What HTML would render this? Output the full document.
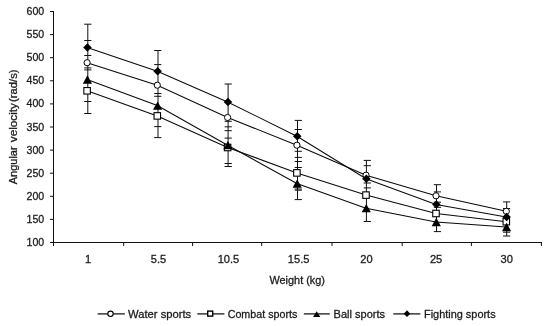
<!DOCTYPE html>
<html><head><meta charset="utf-8"><title>Angular velocity vs weight</title>
<style>html,body{margin:0;padding:0;background:#fff}svg{display:block}text{font-family:"Liberation Sans",Arial,sans-serif;font-size:11.1px;fill:#1c1c1c;stroke:#1c1c1c;stroke-width:0.3px}</style></head><body>
<svg width="550" height="326" viewBox="0 0 550 326">
<rect width="550" height="326" fill="#fff"/>
<g stroke="#111" stroke-width="1" fill="none">
<path d="M53.5 11.0V246.0"/>
<path d="M50.0 242.5H541.9"/>
<path d="M50.0 11.50H53.5"/>
<path d="M50.0 34.60H53.5"/>
<path d="M50.0 57.70H53.5"/>
<path d="M50.0 80.80H53.5"/>
<path d="M50.0 103.90H53.5"/>
<path d="M50.0 127.00H53.5"/>
<path d="M50.0 150.10H53.5"/>
<path d="M50.0 173.20H53.5"/>
<path d="M50.0 196.30H53.5"/>
<path d="M50.0 219.40H53.5"/>
<path d="M50.0 242.50H53.5"/>
<path d="M123.70 242.5V246.0"/>
<path d="M192.60 242.5V246.0"/>
<path d="M261.70 242.5V246.0"/>
<path d="M332.00 242.5V246.0"/>
<path d="M402.20 242.5V246.0"/>
<path d="M471.40 242.5V246.0"/>
<path d="M541.40 242.5V246.0"/>
</g>
<text x="44.2" y="15.00" text-anchor="end" textLength="17.7" lengthAdjust="spacingAndGlyphs">600</text>
<text x="44.2" y="38.10" text-anchor="end" textLength="17.7" lengthAdjust="spacingAndGlyphs">550</text>
<text x="44.2" y="61.20" text-anchor="end" textLength="17.7" lengthAdjust="spacingAndGlyphs">500</text>
<text x="44.2" y="84.30" text-anchor="end" textLength="17.7" lengthAdjust="spacingAndGlyphs">450</text>
<text x="44.2" y="107.40" text-anchor="end" textLength="17.7" lengthAdjust="spacingAndGlyphs">400</text>
<text x="44.2" y="130.50" text-anchor="end" textLength="17.7" lengthAdjust="spacingAndGlyphs">350</text>
<text x="44.2" y="153.60" text-anchor="end" textLength="17.7" lengthAdjust="spacingAndGlyphs">300</text>
<text x="44.2" y="176.70" text-anchor="end" textLength="17.7" lengthAdjust="spacingAndGlyphs">250</text>
<text x="44.2" y="199.80" text-anchor="end" textLength="17.7" lengthAdjust="spacingAndGlyphs">200</text>
<text x="44.2" y="222.90" text-anchor="end" textLength="17.7" lengthAdjust="spacingAndGlyphs">150</text>
<text x="44.2" y="246.00" text-anchor="end" textLength="17.7" lengthAdjust="spacingAndGlyphs">100</text>
<text x="88.10" y="263" text-anchor="middle">1</text>
<text x="158.50" y="263" text-anchor="middle">5.5</text>
<text x="228.50" y="263" text-anchor="middle">10.5</text>
<text x="298.60" y="263" text-anchor="middle">15.5</text>
<text x="366.40" y="263" text-anchor="middle">20</text>
<text x="436.10" y="263" text-anchor="middle">25</text>
<text x="506.70" y="263" text-anchor="middle">30</text>
<text x="297.2" y="283.8" text-anchor="middle" textLength="55.6" lengthAdjust="spacingAndGlyphs">Weight (kg)</text>
<text transform="translate(17.3 184.2) rotate(-90)" textLength="37.8" lengthAdjust="spacingAndGlyphs">Angular</text>
<text transform="translate(17.3 142.2) rotate(-90)" textLength="39.1" lengthAdjust="spacingAndGlyphs">velocity</text>
<text transform="translate(17.3 101.9) rotate(-90)" textLength="32.4" lengthAdjust="spacingAndGlyphs">(rad/s)</text>
<g stroke="#111" stroke-width="1" fill="none">
<path d="M87.80 24.2V113.5"/>
<path d="M84.20 24.2H91.40"/>
<path d="M84.20 40.5H91.40"/>
<path d="M84.20 55.5H91.40"/>
<path d="M84.20 67.9H91.40"/>
<path d="M84.20 69.9H91.40"/>
<path d="M84.20 101.5H91.40"/>
<path d="M84.20 113.5H91.40"/>
<path d="M158.00 50.5V137.6"/>
<path d="M154.20 50.5H161.40"/>
<path d="M154.20 64.6H161.40"/>
<path d="M154.20 93.5H161.40"/>
<path d="M154.20 96.3H161.40"/>
<path d="M154.20 126.6H161.40"/>
<path d="M154.20 137.6H161.40"/>
<path d="M228.10 84.0V166.5"/>
<path d="M224.60 84.0H231.80"/>
<path d="M224.60 121.3H231.80"/>
<path d="M224.60 126.8H231.80"/>
<path d="M224.60 130.7H231.80"/>
<path d="M224.60 138.1H231.80"/>
<path d="M224.60 163.5H231.80"/>
<path d="M224.60 166.5H231.80"/>
<path d="M297.50 120.4V199.6"/>
<path d="M294.70 120.4H301.90"/>
<path d="M294.70 129.5H301.90"/>
<path d="M294.70 151.3H301.90"/>
<path d="M294.70 157.4H301.90"/>
<path d="M294.70 161.5H301.90"/>
<path d="M294.70 167.5H301.90"/>
<path d="M294.70 189.0H301.90"/>
<path d="M294.70 190.2H301.90"/>
<path d="M294.70 199.6H301.90"/>
<path d="M366.40 160.4V221.5"/>
<path d="M363.70 160.4H370.90"/>
<path d="M363.70 165.7H370.90"/>
<path d="M363.70 183.0H370.90"/>
<path d="M363.70 187.9H370.90"/>
<path d="M363.70 221.5H370.90"/>
<path d="M436.50 184.7V231.6"/>
<path d="M433.80 184.7H441.00"/>
<path d="M433.80 191.9H441.00"/>
<path d="M433.80 202.2H441.00"/>
<path d="M433.80 207.3H441.00"/>
<path d="M433.80 231.6H441.00"/>
<path d="M506.70 201.9V236.0"/>
<path d="M503.00 201.9H510.20"/>
<path d="M503.00 208.5H510.20"/>
<path d="M503.00 232.2H510.20"/>
<path d="M503.00 236.0H510.20"/>
</g>
<g stroke="#0a0a0a" stroke-width="1.05" fill="none">
<polyline points="87.10,62.7 157.30,85.2 227.60,117.5 296.90,145.2 366.00,175.2 436.00,195.8 506.30,211.3"/>
<polyline points="87.10,90.8 157.30,115.9 227.60,147.5 296.90,172.9 366.00,195.1 436.00,213.5 506.30,221.7"/>
<polyline points="87.10,79.5 157.30,105.6 227.60,145.2 296.90,183.5 366.00,208.2 436.00,222.0 506.30,227.0"/>
<polyline points="87.10,47.5 157.30,71.3 227.60,102.0 296.90,136.2 366.00,178.7 436.00,204.4 506.30,217.0"/>
</g>
<circle cx="87.10" cy="62.70" r="3.1" fill="#fff" stroke="#000" stroke-width="1"/>
<circle cx="157.30" cy="85.20" r="3.1" fill="#fff" stroke="#000" stroke-width="1"/>
<circle cx="227.60" cy="117.50" r="3.1" fill="#fff" stroke="#000" stroke-width="1"/>
<circle cx="296.90" cy="145.20" r="3.1" fill="#fff" stroke="#000" stroke-width="1"/>
<circle cx="366.00" cy="175.20" r="3.1" fill="#fff" stroke="#000" stroke-width="1"/>
<circle cx="436.00" cy="195.80" r="3.1" fill="#fff" stroke="#000" stroke-width="1"/>
<circle cx="506.30" cy="211.30" r="3.1" fill="#fff" stroke="#000" stroke-width="1"/>
<rect x="83.85" y="87.55" width="6.5" height="6.5" fill="#fff" stroke="#000" stroke-width="1.1"/>
<rect x="154.05" y="112.65" width="6.5" height="6.5" fill="#fff" stroke="#000" stroke-width="1.1"/>
<rect x="224.35" y="144.25" width="6.5" height="6.5" fill="#fff" stroke="#000" stroke-width="1.1"/>
<rect x="293.65" y="169.65" width="6.5" height="6.5" fill="#fff" stroke="#000" stroke-width="1.1"/>
<rect x="362.75" y="191.85" width="6.5" height="6.5" fill="#fff" stroke="#000" stroke-width="1.1"/>
<rect x="432.75" y="210.25" width="6.5" height="6.5" fill="#fff" stroke="#000" stroke-width="1.1"/>
<rect x="503.05" y="218.45" width="6.5" height="6.5" fill="#fff" stroke="#000" stroke-width="1.1"/>
<path d="M87.40 75.35L92.00 83.65H82.80Z" fill="#000"/>
<path d="M157.60 101.45L162.20 109.75H153.00Z" fill="#000"/>
<path d="M227.90 141.05L232.50 149.35H223.30Z" fill="#000"/>
<path d="M297.20 179.35L301.80 187.65H292.60Z" fill="#000"/>
<path d="M366.30 204.05L370.90 212.35H361.70Z" fill="#000"/>
<path d="M436.30 217.85L440.90 226.15H431.70Z" fill="#000"/>
<path d="M506.60 222.85L511.20 231.15H502.00Z" fill="#000"/>
<path d="M87.45 43.30L91.70 47.50L87.45 51.70L83.20 47.50Z" fill="#000"/>
<path d="M157.65 67.10L161.90 71.30L157.65 75.50L153.40 71.30Z" fill="#000"/>
<path d="M227.95 97.80L232.20 102.00L227.95 106.20L223.70 102.00Z" fill="#000"/>
<path d="M297.25 132.00L301.50 136.20L297.25 140.40L293.00 136.20Z" fill="#000"/>
<path d="M366.35 174.50L370.60 178.70L366.35 182.90L362.10 178.70Z" fill="#000"/>
<path d="M436.35 200.20L440.60 204.40L436.35 208.60L432.10 204.40Z" fill="#000"/>
<path d="M506.65 212.80L510.90 217.00L506.65 221.20L502.40 217.00Z" fill="#000"/>
<path d="M97.6 313.9H124.8" stroke="#1a1a1a" stroke-width="1.3"/>
<circle cx="110.5" cy="313.79999999999995" r="2.7" fill="#fff" stroke="#000" stroke-width="1.1"/>
<text x="128.0" y="317.6" textLength="63.2" lengthAdjust="spacingAndGlyphs">Water sports</text>
<path d="M197.3 313.9H224.4" stroke="#1a1a1a" stroke-width="1.3"/>
<rect x="207.7" y="311.09999999999997" width="5" height="5" fill="#fff" stroke="#000" stroke-width="1.4"/>
<text x="227.7" y="317.6" textLength="69.6" lengthAdjust="spacingAndGlyphs">Combat sports</text>
<path d="M303.9 313.9H329.8" stroke="#1a1a1a" stroke-width="1.3"/>
<path d="M316.70 311.20L320.30 317.10H313.10Z" fill="#000"/>
<text x="333.6" y="317.6" textLength="51.4" lengthAdjust="spacingAndGlyphs">Ball sports</text>
<path d="M393.3 313.9H420.4" stroke="#1a1a1a" stroke-width="1.3"/>
<path d="M407.00 310.30L410.30 313.70L407.00 317.10L403.70 313.70Z" fill="#000"/>
<text x="424.0" y="317.6" textLength="71.6" lengthAdjust="spacingAndGlyphs">Fighting sports</text>
</svg></body></html>
